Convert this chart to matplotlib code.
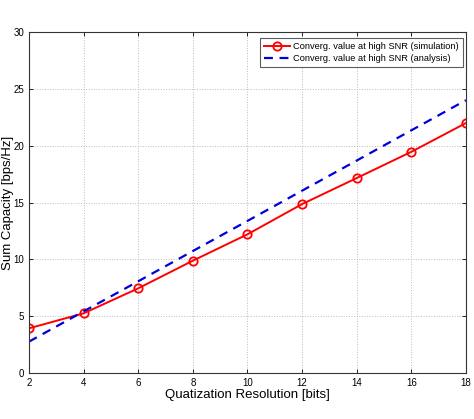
import matplotlib
matplotlib.use("Agg")
import matplotlib.pyplot as plt

bits = [2, 4, 6, 8, 10, 12, 14, 16, 18]
sim = [3.93, 5.25, 7.45, 9.88, 12.2, 14.86, 17.15, 19.46, 21.99]
ana = [2.76, 5.42, 8.07, 10.73, 13.38, 16.04, 18.69, 21.35, 24.0]
xticks = [2, 4, 6, 8, 10, 12, 14, 16, 18]
yticks = [0, 5, 10, 15, 20, 25, 30]

plt.rcParams['font.family'] = ['Liberation Sans', 'DejaVu Sans']
fig = plt.figure(figsize=(4.74, 4.19), dpi=100)
ax = fig.add_axes([0.0612, 0.1098, 0.9218, 0.8138])

ax.plot(bits, sim, color='#ff0000', lw=1.4, marker='o', markersize=6,
        markerfacecolor='none', markeredgewidth=1.3,
        label='Converg. value at high SNR (simulation)')
ax.plot(bits, ana, color='#0000dd', lw=1.6, ls=(0, (4, 3)),
        label='Converg. value at high SNR (analysis)')

ax.set_xlim(2, 18)
ax.set_ylim(0, 30)
ax.set_xticks(xticks)
ax.set_yticks(yticks)
ax.tick_params(direction='in', top=True, right=True, labelsize=7, length=3, width=0.6)
ax.grid(True, ls=':', color='#bbbbbb', lw=0.7)
for s in ax.spines.values():
    s.set_linewidth(0.8)
    s.set_color('#333333')
ax.set_xlabel('Quatization Resolution [bits]', fontsize=9.5)
ax.xaxis.set_label_coords(0.5, -0.047)
ax.set_ylabel('Sum Capacity [bps/Hz]', fontsize=9.5)
ax.yaxis.set_label_coords(-0.034, 0.5)

leg = ax.legend(loc='upper right', fontsize=6.7, frameon=True, fancybox=False,
                edgecolor='#333333', bbox_to_anchor=(0.993, 0.983),
                borderaxespad=0.0, handlelength=2.8,
                borderpad=0.45, labelspacing=0.3, handletextpad=0.3)
leg.get_frame().set_linewidth(0.8)

fig.savefig('out.png', dpi=100)
